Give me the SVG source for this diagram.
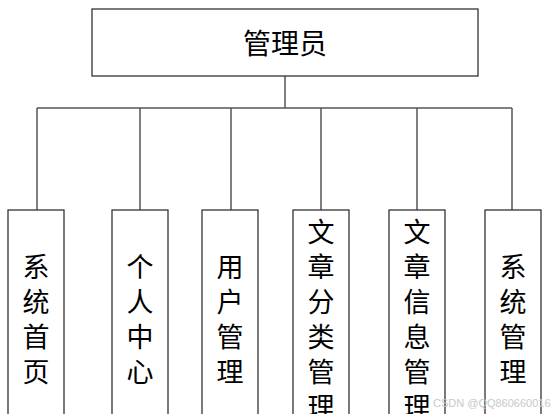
<svg xmlns="http://www.w3.org/2000/svg" width="553" height="414" viewBox="0 0 553 414">
<style>
.box{fill:#fff;stroke:#333;stroke-width:1.3}
.ln{fill:none;stroke:#555;stroke-width:1.5}
.t{font-family:"Noto Sans CJK SC","Microsoft YaHei",sans-serif;font-size:27px;fill:#000;text-anchor:middle}
.wm{font-family:"Liberation Sans",Arial,sans-serif;font-size:11px;fill:#c8c8c8}
</style>
<rect width="553" height="414" fill="#fff"/>
<g id="connectors">
<path class="ln" d="M285 76V108M37 108H512M37 108V210M140 108V210M231 108V210M321 108V210M417 108V210M512 108V210"/>
</g>
<g id="admin">
<rect class="box" x="92" y="9" width="386" height="67"/>
<text class="t" x="285" y="54" style="font-size:28px">管理员</text>
</g>
<g id="n1">
<rect class="box" x="8" y="210" width="56" height="210"/>
<text class="t" x="36" y="277">系</text><text class="t" x="36" y="312">统</text><text class="t" x="36" y="347">首</text><text class="t" x="36" y="382">页</text>
</g>
<g id="n2">
<rect class="box" x="112" y="210" width="56" height="210"/>
<text class="t" x="140" y="277">个</text><text class="t" x="140" y="312">人</text><text class="t" x="140" y="347">中</text><text class="t" x="140" y="382">心</text>
</g>
<g id="n3">
<rect class="box" x="202" y="210" width="56" height="210"/>
<text class="t" x="230" y="277">用</text><text class="t" x="230" y="312">户</text><text class="t" x="230" y="347">管</text><text class="t" x="230" y="382">理</text>
</g>
<g id="n4">
<rect class="box" x="293" y="210" width="56" height="210"/>
<text class="t" x="321" y="242">文</text><text class="t" x="321" y="277">章</text><text class="t" x="321" y="312">分</text><text class="t" x="321" y="347">类</text><text class="t" x="321" y="382">管</text><text class="t" x="321" y="417">理</text>
</g>
<g id="n5">
<rect class="box" x="389" y="210" width="56" height="210"/>
<text class="t" x="417" y="242">文</text><text class="t" x="417" y="277">章</text><text class="t" x="417" y="312">信</text><text class="t" x="417" y="347">息</text><text class="t" x="417" y="382">管</text><text class="t" x="417" y="417">理</text>
</g>
<g id="n6">
<rect class="box" x="485" y="210" width="56" height="210"/>
<text class="t" x="513" y="277">系</text><text class="t" x="513" y="312">统</text><text class="t" x="513" y="347">管</text><text class="t" x="513" y="382">理</text>
</g>
<text class="wm" x="433" y="407">CSDN @QQ860660016</text>
</svg>
